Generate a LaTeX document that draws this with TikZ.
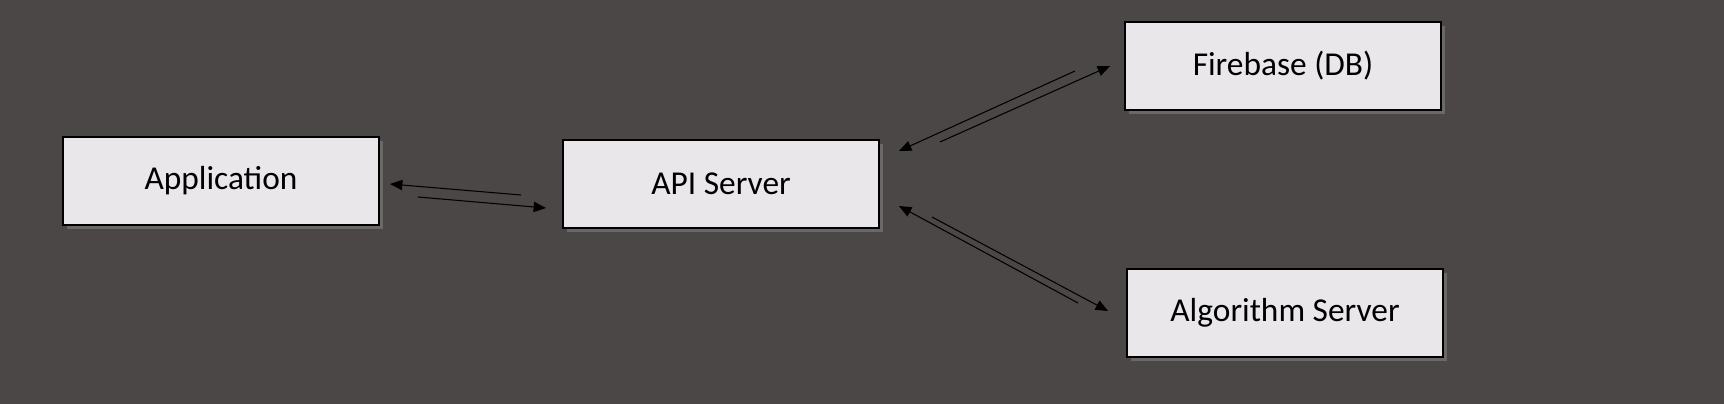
\documentclass[tikz,border=0pt]{standalone}
\usepackage{fontspec}
\setmainfont{Carlito}
\usetikzlibrary{arrows,shadows}
\definecolor{bgcol}{HTML}{4A4746}
\definecolor{boxcol}{HTML}{E9E7EA}
\begin{document}
\begin{tikzpicture}[x=0.02cm,y=-0.02cm,>=triangle 45,
box/.style={rectangle, draw, semithick, fill=boxcol, minimum width=316*0.02cm, minimum height=88*0.02cm, font=\fontsize{19}{23}\selectfont, drop shadow={shadow xshift=2pt,shadow yshift=-2pt,opacity=0.6}},
point/.style={coordinate},
link/.style={semithick,->},
]
\fill[bgcol] (0,0) rectangle (1724,404);
\node (app) [box] at (221,181) {Application};
\node (api) [box] at (721,184) {API Server};
\node (fire) [box] at (1283,66) {Firebase (DB)};
\node (algo) [box] at (1285,313) {Algorithm Server};
%connector ends
\node (p1) [point] at (521,195) {};
\node (p2) [point] at (390,184) {};
\node (p3) [point] at (418,197) {};
\node (p4) [point] at (546,208) {};
\node (p5) [point] at (1075,71) {};
\node (p6) [point] at (899,151) {};
\node (p7) [point] at (940,142) {};
\node (p8) [point] at (1110,66) {};
\node (p9) [point] at (1078,303) {};
\node (p10) [point] at (899,206) {};
\node (p11) [point] at (932,217) {};
\node (p12) [point] at (1108,311) {};
\draw [link] (p1)--(p2);
\draw [link] (p3)--(p4);
\draw [link] (p5)--(p6);
\draw [link] (p7)--(p8);
\draw [link] (p9)--(p10);
\draw [link] (p11)--(p12);
\end{tikzpicture}
\end{document}
